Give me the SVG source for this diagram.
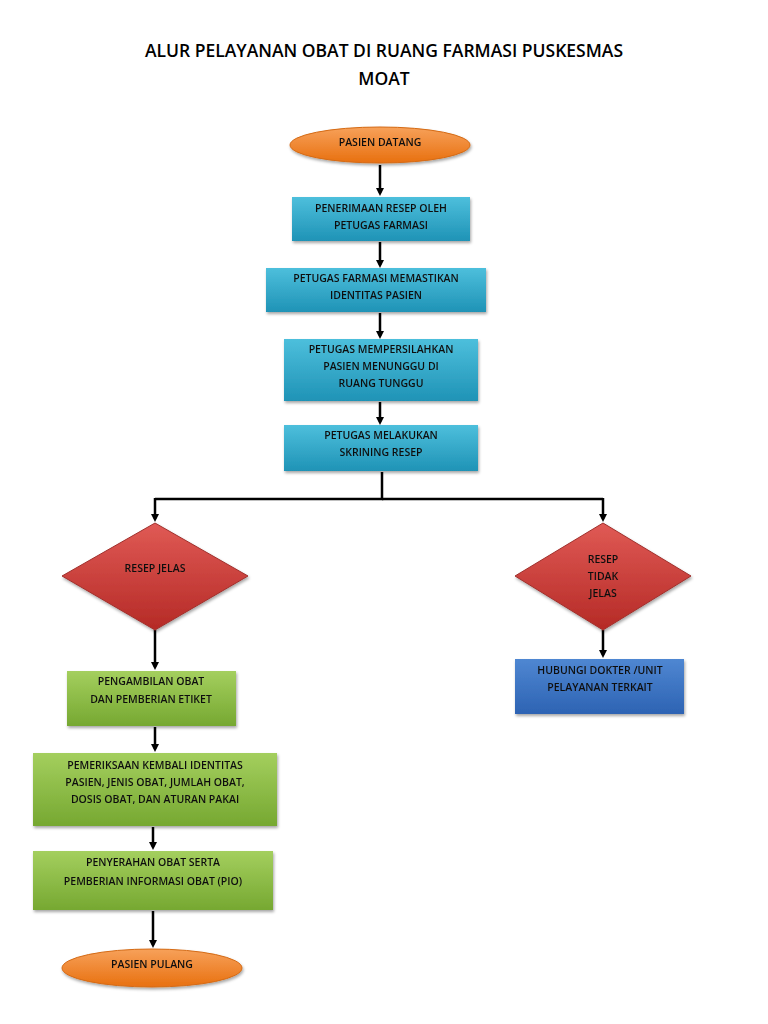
<svg xmlns="http://www.w3.org/2000/svg" width="768" height="1024" viewBox="0 0 768 1024">
<defs>
<linearGradient id="gO" x1="0" y1="0" x2="0" y2="1"><stop offset="0" stop-color="#f7a15a"/><stop offset="1" stop-color="#e8700f"/></linearGradient>
<linearGradient id="gT" x1="0" y1="0" x2="0" y2="1"><stop offset="0" stop-color="#4dbfdc"/><stop offset="1" stop-color="#1f93b6"/></linearGradient>
<linearGradient id="gR" x1="0" y1="0" x2="0" y2="1"><stop offset="0" stop-color="#e05a55"/><stop offset="1" stop-color="#b52a26"/></linearGradient>
<linearGradient id="gG" x1="0" y1="0" x2="0" y2="1"><stop offset="0" stop-color="#a4cf5e"/><stop offset="1" stop-color="#76a831"/></linearGradient>
<linearGradient id="gB" x1="0" y1="0" x2="0" y2="1"><stop offset="0" stop-color="#4f87d2"/><stop offset="1" stop-color="#2d63b3"/></linearGradient>
<filter id="sh" x="-10%" y="-10%" width="130%" height="140%"><feDropShadow dx="1" dy="2" stdDeviation="1.5" flood-color="#000" flood-opacity="0.35"/></filter>
<marker id="ah" markerWidth="8" markerHeight="8" refX="5" refY="4" orient="auto" markerUnits="userSpaceOnUse"><path d="M0,0 L8,4 L0,8 Z" fill="#000"/></marker>
<style>
text{font-family:"Open Sans","Liberation Sans",sans-serif;font-weight:600;font-size:10.5px;fill:#111;text-anchor:middle}
.title{font-size:17.5px;font-weight:600;fill:#000}
.c{stroke:#000;stroke-width:2.5;fill:none}
.a{marker-end:url(#ah)}
</style>
</defs>
<text class="title" x="384" y="57">ALUR PELAYANAN OBAT DI RUANG FARMASI PUSKESMAS</text>
<text class="title" x="384" y="85">MOAT</text>
<g id="connectors">
<path class="c a" d="M380,165 V193"/>
<path class="c a" d="M380,242 V265"/>
<path class="c a" d="M380,313 V336"/>
<path class="c a" d="M380,402 V422"/>
<path class="c" d="M382,472 V499 H155"/>
<path class="c" d="M382,499 H603"/>
<path class="c a" d="M155,498 V519"/>
<path class="c a" d="M603,498 V519"/>
<path class="c a" d="M155,630 V667"/>
<path class="c a" d="M603,630 V655"/>
<path class="c a" d="M155,727 V749"/>
<path class="c a" d="M153,827 V847"/>
<path class="c a" d="M153,911 V945"/>
</g>
<g id="n1" filter="url(#sh)"><ellipse cx="380" cy="145" rx="90" ry="18" fill="url(#gO)" stroke="#d46a14"/><text x="380" y="146">PASIEN DATANG</text></g>
<g id="n2" filter="url(#sh)"><rect x="292" y="197" width="178" height="44" fill="url(#gT)"/><text x="381" y="212">PENERIMAAN RESEP OLEH</text><text x="381" y="229">PETUGAS FARMASI</text></g>
<g id="n3" filter="url(#sh)"><rect x="266" y="268" width="220" height="44" fill="url(#gT)"/><text x="376" y="282">PETUGAS FARMASI MEMASTIKAN</text><text x="376" y="299">IDENTITAS PASIEN</text></g>
<g id="n4" filter="url(#sh)"><rect x="284" y="339" width="194" height="62" fill="url(#gT)"/><text x="381" y="353">PETUGAS MEMPERSILAHKAN</text><text x="381" y="370">PASIEN MENUNGGU DI</text><text x="381" y="387">RUANG TUNGGU</text></g>
<g id="n5" filter="url(#sh)"><rect x="284" y="425" width="194" height="46" fill="url(#gT)"/><text x="381" y="439">PETUGAS MELAKUKAN</text><text x="381" y="456">SKRINING RESEP</text></g>
<g id="n6" filter="url(#sh)"><polygon points="155,523 248,576 155,630 62,576" fill="url(#gR)" stroke="#a0302c"/><text x="155" y="572">RESEP JELAS</text></g>
<g id="n7" filter="url(#sh)"><polygon points="603,523 691,576 603,630 515,576" fill="url(#gR)" stroke="#a0302c"/><text x="603" y="563">RESEP</text><text x="603" y="580">TIDAK</text><text x="603" y="597">JELAS</text></g>
<g id="n8" filter="url(#sh)"><rect x="515" y="659" width="169" height="55" fill="url(#gB)"/><text x="600" y="674">HUBUNGI DOKTER /UNIT</text><text x="600" y="691">PELAYANAN TERKAIT</text></g>
<g id="n9" filter="url(#sh)"><rect x="67" y="671" width="169" height="55" fill="url(#gG)"/><text x="151" y="685">PENGAMBILAN OBAT</text><text x="151" y="703">DAN PEMBERIAN ETIKET</text></g>
<g id="n10" filter="url(#sh)"><rect x="33" y="753" width="244" height="73" fill="url(#gG)"/><text x="155" y="769">PEMERIKSAAN KEMBALI IDENTITAS</text><text x="155" y="786">PASIEN, JENIS OBAT, JUMLAH OBAT,</text><text x="155" y="803">DOSIS OBAT, DAN ATURAN PAKAI</text></g>
<g id="n11" filter="url(#sh)"><rect x="33" y="851" width="240" height="59" fill="url(#gG)"/><text x="153" y="866">PENYERAHAN OBAT SERTA</text><text x="153" y="885">PEMBERIAN INFORMASI OBAT (PIO)</text></g>
<g id="n12" filter="url(#sh)"><ellipse cx="152" cy="968" rx="90" ry="19" fill="url(#gO)" stroke="#d46a14"/><text x="152" y="968">PASIEN PULANG</text></g>
</svg>
